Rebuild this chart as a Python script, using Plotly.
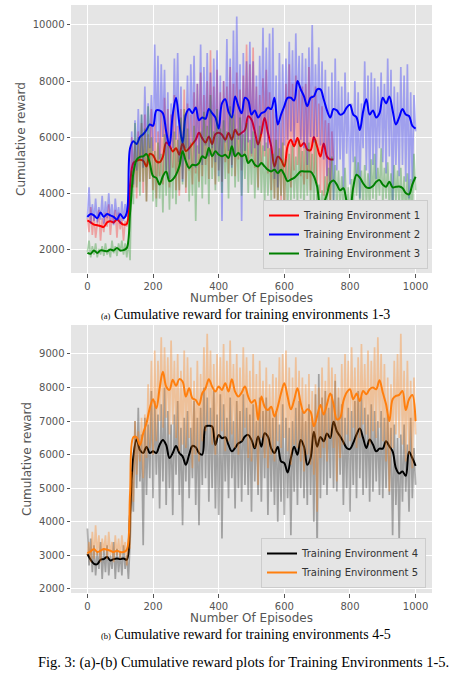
import plotly.graph_objects as go

# episode steps: smoothed curves every 10 episodes, raw rewards every 5
SMOOTH_STEP = 10
RAW_STEP = 5

# ---- (a) training environments 1-3 ----
env1_raw = [
    3100, 2600, 3500, 2500, 3200, 2400, 2900, 3400, 2300, 3100,
    2600, 3300, 2800, 3600, 2500, 3200, 2900, 3400, 2400, 3300,
    2700, 3100, 2300, 3000, 2800, 3300, 3500, 6000, 4200, 5800,
    3800, 6200, 4400, 6500, 4000, 6800, 3700, 6100, 4500, 7000,
    4100, 6500, 3800, 6200, 4600, 6900, 4300, 7400, 4800, 7000,
    4200, 6800, 4900, 7500, 4100, 6400, 3900, 7000, 4500, 7700,
    4000, 7200, 4800, 6800, 4300, 7600, 4700, 7900, 4400, 8300,
    4600, 7500, 5000, 8000, 4500, 9100, 4900, 7800, 4300, 8400,
    4800, 7600, 4400, 8000, 5100, 7800, 4700, 8500, 5000, 7900,
    4600, 8300, 5200, 7700, 4800, 8200, 5400, 9300, 5100, 8600,
    5300, 9200, 4900, 7800, 4200, 7500, 5000, 8100, 5300, 8400,
    4700, 7600, 4100, 7000, 3800, 6800, 3500, 6500, 3700, 7000,
    2900, 7900, 4500, 8600, 4200, 7900, 4800, 8200, 5000, 7700,
    4600, 7800, 4300, 7900, 4500, 8500, 4100, 7500, 4700, 7800,
    4300, 7200, 4000, 7100, 3900, 6600, 4100, 6500, 3600, 6200,
    5200,
]
env2_raw = [
    3100, 4200, 2900, 3600, 3000, 3800, 2950, 3500, 3050, 3900,
    2900, 3700, 3100, 4000, 3000, 3600, 2850, 3800, 3100, 3500,
    2900, 3700, 3000, 3600, 3150, 3900, 3400, 6200, 4300, 6600,
    4800, 7000, 5200, 6800, 4900, 7800, 5400, 7200, 5600, 7500,
    5500, 9300, 5800, 8900, 5200, 8600, 6000, 8400, 4800, 7600,
    4500, 7200, 5600, 8800, 5900, 9000, 5100, 7800, 4400, 6800,
    5600, 8200, 5200, 8600, 5800, 8900, 4900, 7900, 5400, 9300,
    5000, 8500, 5700, 9000, 5300, 8300, 5600, 8800, 5100, 9100,
    4600, 8200, 3000, 8000, 5800, 9500, 5500, 8800, 4900, 9800,
    5300, 10300, 5900, 8600, 3000, 9000, 5500, 8700, 5800, 9400,
    5400, 8700, 5600, 8200, 5000, 8900, 6100, 9900, 5500, 9200,
    5600, 9700, 4800, 9900, 4500, 8200, 4200, 9000, 5200, 8600,
    5700, 8800, 5900, 9400, 6200, 9100, 5800, 9700, 6500, 8900,
    5900, 9000, 5600, 8800, 5000, 9200, 6000, 10000, 5800, 8600,
    6000, 9200, 5700, 8700, 5200, 8400, 4600, 7800, 4400, 8300,
    3700, 8800, 4800, 8000, 5200, 7800, 4100, 8300, 5400, 7600,
    4300, 7200, 5100, 8000, 4600, 7600, 3800, 7200, 5600, 8700,
    4800, 8200, 4200, 8300, 5000, 8100, 4500, 7800, 5600, 8300,
    5100, 7900, 4700, 8800, 5300, 8400, 3200, 7800, 5000, 7600,
    4600, 8500, 5000, 8200, 4400, 8600, 3800, 7600, 4200, 7500,
    6200,
]
env3_raw = [
    1900, 2300, 1700, 2100, 1800, 2200, 1700, 2000, 1800, 2100,
    1750, 2200, 1800, 2000, 1700, 2300, 1850, 2100, 1750, 2200,
    1900, 2300, 1800, 2200, 1700, 2300, 1600, 4800, 3600, 6500,
    4200, 6000, 3900, 6800, 4400, 6300, 3700, 7100, 4500, 6000,
    3700, 5500, 3500, 5800, 3800, 5400, 3300, 6100, 3900, 5700,
    3400, 5600, 3800, 6200, 3600, 5900, 4100, 6700, 4300, 7000,
    4200, 6300, 3700, 5800, 3900, 6400, 3000, 5700, 4200, 6200,
    3800, 6900, 4300, 6400, 3600, 7500, 4500, 6200, 4100, 7000,
    4400, 6300, 4000, 6600, 4500, 6200, 3800, 7100, 4600, 6800,
    4200, 6300, 4400, 6700, 3900, 6100, 4500, 6500, 4000, 5900,
    4300, 6200, 3800, 5900, 4100, 6400, 4000, 5700, 3600, 5800,
    3900, 5600, 3700, 5400, 3800, 5900, 3500, 5600, 3900, 5800,
    3600, 5200, 3400, 5400, 3700, 5700, 3800, 5300, 3600, 5900,
    3800, 5500, 3500, 5600, 3900, 5800, 3700, 5400, 3400, 5900,
    3100, 4300, 3000, 4100, 3200, 4600, 3300, 4900, 3500, 5300,
    3700, 5000, 3400, 4800, 3600, 4600, 3200, 4900, 3000, 4200,
    3100, 4500, 3500, 5300, 3900, 5100, 3700, 4800, 3500, 5000,
    3600, 4700, 3400, 5200, 3800, 5400, 3700, 4900, 3900, 5600,
    3600, 4900, 3800, 5100, 3500, 4700, 3300, 5000, 3700, 4800,
    3500, 4900, 3400, 4600, 3200, 4700, 3100, 4500, 3300, 5400,
    4100,
]
env1_smooth = [
    3020, 2950, 2870, 2850, 2820, 2790, 2950, 2990, 2950, 3050,
    2950, 2870, 2900, 4300, 5070, 5150, 5190, 5150, 4950, 5400,
    5350, 5130, 5100, 5300, 5800, 5700, 5480, 5600, 5370, 5780,
    5500, 5600, 5750, 5900, 6150, 5950, 5800, 6020, 5750, 6100,
    6150, 6080, 5900, 6140, 5900, 6260, 6080, 6150, 6250, 6740,
    6620, 6200, 5730, 6140, 6680, 6150, 5670, 4950, 5300, 5190,
    4950, 5670, 5900, 5670, 5960, 5670, 5790, 5550, 5530, 6000,
    5650, 5300, 5770, 5300, 5200, 5200,
]
env2_smooth = [
    3150, 3250, 3200, 3100, 3300, 3150, 3250, 3200, 3150, 3050,
    3250, 3100, 3300, 5600, 5850, 5750, 6000, 6100, 6250, 6450,
    6400, 6950, 6950, 6850, 6200, 5700, 6800, 7400, 6500, 5800,
    6800, 7000, 6850, 7050, 6600, 6700, 6650, 7000, 6850, 6700,
    6300, 7200, 7350, 6900, 6700, 7450, 7100, 6850, 7400, 7300,
    6800, 6950, 6700, 6850, 6900, 7050, 7000, 7400, 6450, 6800,
    7100, 7400, 7400, 7300, 8000, 7700, 7450, 7100, 7400, 7450,
    7700, 7700, 7350, 6950, 6700, 7000, 6950, 6800, 6850, 7050,
    7150, 6800, 6700, 6250, 6900, 7350, 6800, 6950, 6700, 6850,
    7400, 7200, 7450, 6950, 6450, 6700, 7000, 6800, 6750, 6400,
    6300,
]
env3_smooth = [
    1860, 1830, 1950, 1860, 1950, 1940, 1920, 1980, 1950, 2040,
    1950, 1960, 2040, 3290, 4710, 5190, 5290, 5310, 5390, 5070,
    4600, 4540, 4300, 4600, 4770, 4420, 4480, 4650, 4950, 5490,
    5130, 4890, 5010, 4990, 5070, 5310, 5250, 5610, 5310, 5490,
    5370, 5310, 5370, 5250, 5670, 5310, 5430, 5310, 5370, 5070,
    5190, 5010, 4950, 5070, 4950, 4830, 4770, 4830, 4710, 4830,
    4650, 4420, 4480, 4540, 4650, 4770, 4770, 4770, 4760, 4600,
    4230, 3550, 3650, 3950, 4370, 4450, 4300, 4100, 4170, 3700,
    3400, 4200, 4650, 4550, 4350, 4200, 4180, 4250, 4400, 4460,
    4300, 4220, 4400, 4200, 4220, 4230, 4180, 4000, 3950, 4300,
    4580,
]

# ---- (b) training environments 4-5 ----
env4_raw = [
    3800, 2700, 3500, 2500, 3300, 2400, 3100, 2600, 3400, 2300,
    3200, 2500, 3300, 2400, 3000, 2600, 3400, 2300, 3200, 2500,
    3100, 2400, 3300, 2600, 3000, 2300, 3400, 5200, 4300, 7000,
    5000, 7400, 5200, 6600, 3300, 7100, 4800, 6900, 5300, 7900,
    4700, 7600, 5400, 7200, 4400, 7500, 5200, 8000, 4500, 7300,
    5000, 6900, 4200, 7200, 5400, 7600, 4800, 6800, 3900, 7100,
    5200, 7300, 4700, 6800, 5300, 7600, 4500, 7100, 3900, 7400,
    5100, 8000, 5300, 7700, 4600, 7400, 5000, 7900, 4400, 7200,
    4200, 7800, 3500, 7500, 5200, 7100, 4700, 7700, 5300, 7000,
    4400, 7600, 5000, 7300, 4600, 7800, 5100, 7400, 4800, 7200,
    4300, 7500, 5200, 7000, 4800, 7700, 4600, 7300, 5300, 7700,
    4200, 7400, 4900, 7100, 4500, 7300, 4000, 6900, 4600, 7500,
    4200, 7100, 4700, 6800, 3600, 7000, 4900, 7400, 4500, 7600,
    5000, 7300, 4700, 7000, 4500, 7500, 4800, 7100, 4000, 7800,
    3100, 8400, 4700, 7700, 5100, 7900, 4800, 7400, 5300, 7800,
    5000, 8200, 4900, 7700, 5400, 7500, 4500, 7100, 5000, 7400,
    4300, 7300, 5100, 7600, 4700, 7900, 5300, 7700, 4800, 7400,
    5000, 7200, 4600, 7500, 4900, 7300, 5200, 7000, 4800, 7300,
    4700, 7100, 5000, 7200, 4800, 6800, 3600, 6900, 4500, 6500,
    3400, 6600, 4600, 6900, 4900, 6300, 4300, 7100, 4700, 6200,
    5100,
]
env5_raw = [
    3000, 3400, 2800, 3700, 2900, 3900, 3000, 3600, 2800, 3500,
    3100, 3600, 2900, 3700, 3000, 3400, 2800, 3600, 3000, 3500,
    2900, 3600, 3100, 3400, 2700, 3500, 3200, 5500, 4600, 7000,
    5400, 6700, 5800, 7100, 5300, 7200, 5900, 8100, 6200, 8800,
    6000, 9100, 6400, 8800, 7000, 9500, 6800, 9200, 7100, 8900,
    6600, 9400, 6900, 8800, 6500, 9000, 6100, 8500, 6300, 9100,
    6200, 8900, 6500, 8600, 5600, 8200, 6000, 8800, 5800, 8400,
    6400, 9200, 6700, 9600, 6900, 9100, 6300, 8700, 6000, 9000,
    6500, 8900, 6700, 9300, 6100, 8800, 6400, 9400, 6600, 8700,
    6200, 9000, 6000, 8600, 6400, 9200, 6800, 8900, 5900, 8500,
    5800, 9000, 6200, 8400, 5100, 8800, 6500, 8200, 5900, 8600,
    5600, 8100, 6000, 8400, 5800, 8300, 6400, 8900, 6200, 9000,
    6500, 9100, 6100, 8600, 5700, 8300, 6300, 8900, 6200, 8500,
    5800, 8300, 5500, 8100, 6000, 8400, 5700, 7900, 5400, 8100,
    4300, 8000, 5900, 8600, 6200, 8200, 5800, 8900, 6500, 8600,
    6200, 8400, 5200, 8000, 5900, 8700, 6300, 9000, 6600, 8800,
    6400, 9200, 6800, 8600, 6200, 8900, 6500, 9300, 6900, 8700,
    6600, 9100, 6300, 8800, 6700, 9200, 6500, 9500, 6800, 9000,
    6400, 8700, 5800, 8300, 4900, 8100, 6200, 8800, 6600, 9000,
    6500, 9600, 6300, 8500, 5800, 8800, 6000, 8200, 5600, 8300,
    6600,
]
env4_smooth = [
    3040, 2870, 2750, 2740, 2870, 2890, 2950, 2850, 2890, 2910,
    2890, 2910, 2870, 4260, 5950, 6460, 6140, 6050, 6240, 6050,
    6100, 6050, 6290, 6440, 6290, 5900, 6050, 6260, 6050, 5950,
    5700, 6000, 6260, 6220, 6050, 6000, 6840, 6860, 6840, 6290,
    6590, 6490, 6520, 6290, 6100, 6200, 6340, 6390, 6540, 6590,
    6440, 6190, 6540, 6240, 6640, 6540, 6190, 6050, 6240, 5800,
    5750, 5470, 5900, 6240, 6000, 6440, 6240, 5700, 5900, 6680,
    6240, 6530, 6400, 6630, 6500, 6980, 6700, 6550, 6380, 6200,
    6170, 6350, 6600, 6780, 6500, 6200, 6450, 6300, 6100, 6180,
    6180, 6400, 6250, 6100, 5600, 5440, 5500, 5370, 6090, 5900,
    5670,
]
env5_smooth = [
    3070, 3120, 3190, 3100, 3140, 3190, 3170, 3140, 3100, 3140,
    3100, 3100, 3170, 4850, 6520, 6520, 6290, 6640, 6940, 7380,
    7650, 7380, 7980, 8470, 8030, 7930, 8230, 8050, 8250, 8180,
    7730, 7980, 7680, 7630, 7480, 7830, 7980, 8250, 8030, 7880,
    8030, 7930, 8130, 7880, 8250, 7880, 7730, 7850, 8030, 7730,
    7550, 7630, 7040, 7730, 7430, 7330, 7430, 7140, 7430, 7830,
    8130, 7730, 7350, 7630, 7980, 7530, 7240, 7350, 7280, 6850,
    7150, 7480, 7200, 7500, 7820, 7500, 7050, 7100, 7600, 7850,
    7950, 7650, 7820, 7600, 7900, 7800, 7950, 8000, 7950, 8220,
    7850, 7500, 7000, 7650, 7750, 7780, 7900, 7330, 7650, 7780,
    7000,
]

x_ticks = [0, 200, 400, 600, 800, 1000]
top_y_ticks = [2000, 4000, 6000, 8000, 10000]
bottom_y_ticks = [2000, 3000, 4000, 5000, 6000, 7000, 8000, 9000]

labels_top = ["Training Environment 1", "Training Environment 2", "Training Environment 3"]
labels_bottom = ["Training Environment 4", "Training Environment 5"]

W, H = 462, 673


def px(x):
    return x / W


def py(y):
    return 1 - y / H


def eps(values, step):
    return [i * step for i in range(len(values))]


fig = go.Figure()

top = [
    (env1_raw, env1_smooth, "rgba(255,0,0,0.3)", "#ff0000", labels_top[0]),
    (env2_raw, env2_smooth, "rgba(0,0,255,0.3)", "#0000ff", labels_top[1]),
    (env3_raw, env3_smooth, "rgba(0,128,0,0.3)", "#008000", labels_top[2]),
]
for raw, smooth, rawcol, col, name in top:
    fig.add_trace(go.Scatter(x=eps(raw, RAW_STEP), y=raw, mode="lines",
                             line=dict(color=rawcol, width=1.7), showlegend=False,
                             hoverinfo="skip", xaxis="x", yaxis="y"))
    fig.add_trace(go.Scatter(x=eps(smooth, SMOOTH_STEP), y=smooth, mode="lines",
                             line=dict(color=col, width=2, shape="spline"), name=name,
                             xaxis="x", yaxis="y", legend="legend"))

bottom = [
    (env4_raw, env4_smooth, "rgba(0,0,0,0.3)", "#000000", labels_bottom[0]),
    (env5_raw, env5_smooth, "rgba(255,127,14,0.35)", "#ff7f0e", labels_bottom[1]),
]
for raw, smooth, rawcol, col, name in bottom:
    fig.add_trace(go.Scatter(x=eps(raw, RAW_STEP), y=raw, mode="lines",
                             line=dict(color=rawcol, width=1.7), showlegend=False,
                             hoverinfo="skip", xaxis="x2", yaxis="y2"))
    fig.add_trace(go.Scatter(x=eps(smooth, SMOOTH_STEP), y=smooth, mode="lines",
                             line=dict(color=col, width=2, shape="spline"), name=name,
                             xaxis="x2", yaxis="y2", legend="legend2"))

axis_style = dict(showgrid=True, gridcolor="white", gridwidth=1, zeroline=False,
                  ticks="outside", ticklen=3.5, tickwidth=1, tickcolor="#555555",
                  tickformat="d",
                  tickfont=dict(family="DejaVu Sans", size=10, color="#555555"),
                  showline=False)
title_font = dict(family="DejaVu Sans", size=12, color="#555555")

legend_style = dict(bgcolor="#E5E5E5", bordercolor="#CCCCCC", borderwidth=1,
                    font=dict(family="DejaVu Sans", size=10, color="#333333"),
                    xanchor="right", yanchor="bottom", tracegroupgap=0)

cap_font = dict(family="Liberation Serif", size=14, color="black")

fig.update_layout(
    width=W, height=H,
    margin=dict(l=0, r=0, t=0, b=0),
    paper_bgcolor="white", plot_bgcolor="#E5E5E5",
    xaxis=dict(domain=[px(71), px(432)], range=[-50, 1050], tickvals=x_ticks,
               anchor="y", title=dict(text="Number Of Episodes", font=title_font, standoff=3),
               **axis_style),
    yaxis=dict(domain=[py(273), py(5)], range=[1143, 10714], tickvals=top_y_ticks,
               anchor="x", title=dict(text="Cumulative reward", font=title_font, standoff=4),
               **axis_style),
    xaxis2=dict(domain=[px(71), px(432)], range=[-50, 1050], tickvals=x_ticks,
                anchor="y2", title=dict(text="Number Of Episodes", font=title_font, standoff=3),
                **axis_style),
    yaxis2=dict(domain=[py(593), py(325)], range=[1880, 9863], tickvals=bottom_y_ticks,
                anchor="x2", title=dict(text="Cumulative reward", font=title_font, standoff=4),
                **axis_style),
    legend=dict(x=px(428), y=py(269), **legend_style),
    legend2=dict(x=px(426), y=py(588), **legend_style),
    annotations=[
        dict(text="<span style='font-size:8.5px'>(a)</span> Cumulative reward for training environments 1-3",
             x=px(246), y=py(314), xref="paper", yref="paper", showarrow=False,
             xanchor="center", yanchor="middle", font=cap_font),
        dict(text="<span style='font-size:8.5px'>(b)</span> Cumulative reward for training environments 4-5",
             x=px(246), y=py(634), xref="paper", yref="paper", showarrow=False,
             xanchor="center", yanchor="middle", font=cap_font),
        dict(text="Fig. 3: (a)-(b) Cumulative reward plots for Training Environments 1-5.",
             x=px(243), y=py(662), xref="paper", yref="paper", showarrow=False,
             xanchor="center", yanchor="middle",
             font=dict(family="Liberation Serif", size=14.5, color="black")),
    ],
)

# the default page keeps an 8px body margin; drop it so the figure fills the window
fig.write_html("out.html", config={"displayModeBar": False},
               post_script="document.body.style.margin = '0';")
